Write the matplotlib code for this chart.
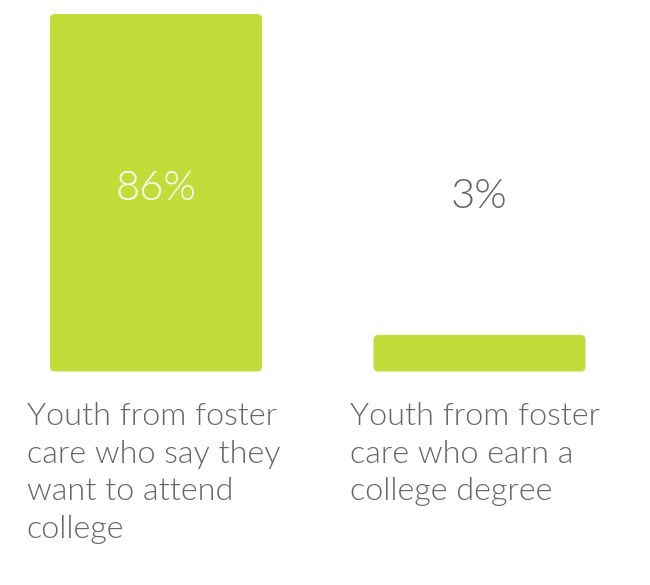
import matplotlib
matplotlib.use("Agg")
import matplotlib.pyplot as plt
from matplotlib.patches import FancyBboxPatch

categories = ["Youth from foster\ncare who say they\nwant to attend\ncollege",
              "Youth from foster\ncare who earn a\ncollege degree"]
values = [86, 3]
value_labels = ["86%", "3%"]
# displayed bar heights (second bar drawn at a minimum visible height)
bar_heights = [86, 8.8]

BAR_COLOR = "#C2DC3A"
GREY = "#666666"
FONT = "Lato"
WEIGHT = 300

fig = plt.figure(figsize=(6.5, 5.85), dpi=100)
ax = fig.add_axes([0, (585 - 371.5) / 585, 1, 371.5 / 585])
ax.set_xlim(-156 / 323.5, (650 - 156) / 323.5)
ymax = 86 * 371.5 / 357.5
ax.set_ylim(0, ymax)
ax.axis("off")

width = 212 / 323.5
bars = ax.bar(range(len(values)), bar_heights, width=width, color=BAR_COLOR)
for b in bars:
    b.set_visible(False)
    p = FancyBboxPatch((b.get_x(), b.get_y()), b.get_width(), b.get_height(),
                       boxstyle="round,pad=0,rounding_size=0.015",
                       mutation_aspect=ymax / 371.5 * 323.5,
                       facecolor=BAR_COLOR, edgecolor="none")
    ax.add_patch(p)

# value labels
ax.text(0, 86 * (371.5 - 189) / 357.5, value_labels[0], ha="center", va="center",
        color="white", fontsize=30, family=FONT, fontweight=WEIGHT)
ax.text(1, 86 * (371.5 - 196) / 357.5, value_labels[1], ha="center", va="center",
        color=GREY, fontsize=30, family=FONT, fontweight=WEIGHT)

for i, cat in enumerate(categories):
    ax.annotate(cat, xy=(i - 0.40, 0), xycoords=("data", "axes fraction"),
                xytext=(0, -22), textcoords="offset points",
                ha="left", va="top", color=GREY, fontsize=23.3, family=FONT,
                fontweight=WEIGHT, linespacing=1.37, annotation_clip=False)

fig.savefig("out.png", dpi=100)
